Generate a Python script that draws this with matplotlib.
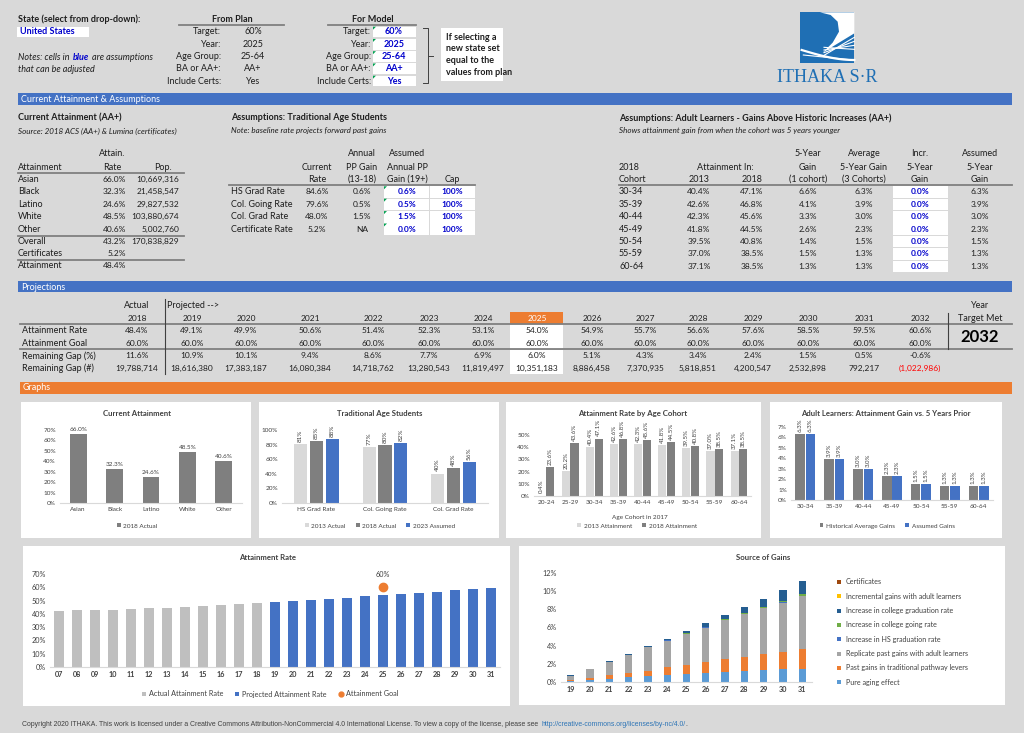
import matplotlib
matplotlib.use("Agg")
import matplotlib.pyplot as plt
from matplotlib.patches import Rectangle, Polygon
from matplotlib.lines import Line2D
from matplotlib.ticker import PercentFormatter
import numpy as np

plt.rcParams['font.family'] = ['Lato', 'DejaVu Sans']

# ---- header inputs ----
state = "United States"
plan_labels = ["Target:", "Year:", "Age Group:", "BA or AA+:", "Include Certs:"]
plan_values = ["60%", "2025", "25-64", "AA+", "Yes"]
model_values = ["60%", "2025", "25-64", "AA+", "Yes"]

# ---- current attainment ----
groups = ["Asian", "Black", "Latino", "White", "Other"]
group_rate = [66.0, 32.3, 24.6, 48.5, 40.6]
group_pop = [10669316, 21458547, 29827532, 103880674, 5002760]
overall_rate = 43.2
overall_pop = 170838829
cert_rate = 5.2
attain_total = 48.4

# ---- traditional age students ----
trad_labels = ["HS Grad Rate", "Col. Going Rate", "Col. Grad Rate", "Certificate Rate"]
trad_current = [84.6, 79.6, 48.0, 5.2]
trad_past_gain = ["0.6%", "0.5%", "1.5%", "NA"]
trad_assumed = [0.6, 0.5, 1.5, 0.0]
trad_cap = [100, 100, 100, 100]

# ---- adult learners ----
cohorts = ["30-34", "35-39", "40-44", "45-49", "50-54", "55-59", "60-64"]
att_2013 = [40.4, 42.6, 42.3, 41.8, 39.5, 37.0, 37.1]
att_2018 = [47.1, 46.8, 45.6, 44.5, 40.8, 38.5, 38.5]
gain_one = [6.6, 4.1, 3.3, 2.6, 1.4, 1.5, 1.3]
gain_avg = [6.3, 3.9, 3.0, 2.3, 1.5, 1.3, 1.3]
gain_incr = [0.0, 0.0, 0.0, 0.0, 0.0, 0.0, 0.0]
gain_assumed = [6.3, 3.9, 3.0, 2.3, 1.5, 1.3, 1.3]

# ---- projections ----
proj_years = [2018, 2019, 2020, 2021, 2022, 2023, 2024, 2025, 2026, 2027, 2028, 2029, 2030, 2031, 2032]
proj_rate = [48.4, 49.1, 49.9, 50.6, 51.4, 52.3, 53.1, 54.0, 54.9, 55.7, 56.6, 57.6, 58.5, 59.5, 60.6]
proj_goal = [60.0] * 15
gap_pct = [11.6, 10.9, 10.1, 9.4, 8.6, 7.7, 6.9, 6.0, 5.1, 4.3, 3.4, 2.4, 1.5, 0.5, -0.6]
gap_num = [19788714, 18616380, 17383187, 16080384, 14718762, 13280543, 11819497, 10351183,
           8886458, 7370935, 5818851, 4200547, 2532898, 792217, -1022986]

# ---- chart data ----
trad_cats = ["HS Grad Rate", "Col. Going Rate", "Col. Grad Rate"]
trad_2013 = [81.2, 77.2, 40.4]
trad_2018 = [84.6, 79.6, 48.0]
trad_2023 = [87.6, 82.1, 55.5]

age_cats = ["20-24", "25-29", "30-34", "35-39", "40-44", "45-49", "50-54", "55-59", "60-64"]
age_2013 = [0.4, 20.2, 40.4, 42.6, 42.3, 41.8, 39.5, 37.0, 37.1]
age_2018 = [23.6, 43.6, 47.1, 46.8, 45.6, 44.5, 40.8, 38.5, 38.5]

hist_years = ["07", "08", "09", "10", "11", "12", "13", "14", "15", "16", "17", "18"]
hist_rate = [42.3, 42.6, 42.9, 43.1, 43.6, 44.3, 44.7, 45.3, 45.9, 46.7, 47.3, 48.4]
fut_years = ["19", "20", "21", "22", "23", "24", "25", "26", "27", "28", "29", "30", "31"]
fut_rate = [49.1, 49.9, 50.6, 51.4, 52.3, 53.1, 54.0, 54.9, 55.7, 56.6, 57.6, 58.5, 59.5]
goal_year = "25"
goal_rate = 60

gain_names = ["Pure aging effect", "Past gains in traditional pathway levers",
              "Replicate past gains with adult learners", "Increase in HS graduation rate",
              "Increase in college going rate", "Increase in college graduation rate",
              "Incremental gains with adult learners", "Certificates"]
gain_aging = [0.1, 0.2, 0.35, 0.5, 0.65, 0.8, 0.9, 1.0, 1.15, 1.25, 1.35, 1.4, 1.45]
gain_trad = [0.1, 0.2, 0.4, 0.5, 0.6, 0.8, 0.95, 1.2, 1.35, 1.55, 1.75, 1.9, 2.15]
gain_repl = [0.5, 1.0, 1.45, 2.0, 2.55, 2.95, 3.45, 3.8, 4.3, 4.65, 5.0, 5.45, 5.85]
gain_hs = [0.0, 0.0, 0.01, 0.01, 0.02, 0.02, 0.03, 0.03, 0.04, 0.04, 0.05, 0.06, 0.07]
gain_going = [0.0, 0.0, 0.01, 0.01, 0.02, 0.03, 0.04, 0.05, 0.05, 0.06, 0.08, 0.1, 0.15]
gain_grad = [0.02, 0.05, 0.05, 0.06, 0.08, 0.17, 0.27, 0.38, 0.5, 0.7, 0.95, 1.2, 1.45]
gain_adult = [0.0] * 13
gain_cert = [0.0] * 13
gain_colors = ["#5b9bd5", "#ed7d31", "#a5a5a5", "#4472c4", "#70ad47", "#255e91", "#ffc000", "#9e480e"]

W, H = 1024, 733
fig = plt.figure(figsize=(W / 100, H / 100), dpi=100)
fig.patch.set_facecolor('#d9d9d9')
renderer = fig.canvas.get_renderer()

TXT = '#1e1e1e'
BLUE_TXT = '#0000cc'
BLUE = '#4472c4'
ORANGE = '#ed7d31'
DARK = '#7f7f7f'
LIGHT = '#d9d9d9'
NS = 6.0  # numbers in the tables (digits are wide in Lato)


def fx(x):
    return x / W


def fy(y):
    return 1 - y / H


def T(x, y, s, size=6.5, ha='left', **kw):
    kw.setdefault('color', TXT)
    return fig.text(fx(x), fy(y), s, fontsize=size, ha=ha, va='center', **kw)


def right_of(t):
    return t.get_window_extent(renderer).x1


def box(x0, y0, x1, y1, fc='white', z=0.5):
    fig.add_artist(Rectangle((fx(x0), fy(y1)), (x1 - x0) / W, (y1 - y0) / H,
                             transform=fig.transFigure, fc=fc, ec='none', zorder=z))


def seg(xs, ys, color='#808080', lw=1.0):
    fig.add_artist(Line2D([fx(x) for x in xs], [fy(y) for y in ys],
                          transform=fig.transFigure, color=color, lw=lw))


def tri(x, y):
    fig.add_artist(Polygon([(fx(x), fy(y)), (fx(x + 3), fy(y)), (fx(x), fy(y + 3))],
                           closed=True, transform=fig.transFigure, fc='#00a050', ec='none', zorder=1))


def pct(v, d=1):
    return f"{v:.{d}f}%"


# ================= header =================
T(18, 19, "State (select from drop-down):", weight='bold')
box(17, 27, 89, 37)
T(20, 32, state, color=BLUE_TXT, weight='bold')
n1 = T(18, 57, "Notes: cells in", style='italic')
n2 = T(right_of(n1) + 3, 57, "blue", style='italic', weight='bold', color=BLUE_TXT)
T(right_of(n2) + 3, 57, "are assumptions", style='italic')
T(18, 69, "that can be adjusted", style='italic')

T(232, 19, "From Plan", ha='center', weight='bold')
seg([179, 284], [24.5, 24.5], lw=1.3)
T(373, 19, "For Model", ha='center', weight='bold')
seg([328, 416], [24.5, 24.5], lw=1.3)
for i, (lab, pv, mv) in enumerate(zip(plan_labels, plan_values, model_values)):
    y = 32 + 12.25 * i
    T(221, y, lab, ha='right')
    T(253, y, pv, ha='center')
    T(371, y, lab, ha='right')
    box(373, y - 5.3, 416, y + 5.3)
    tri(373, y - 5.3)
    T(394, y, mv, ha='center', color=BLUE_TXT, weight='bold')

seg([423, 428, 428, 423], [28, 28, 83, 83], color='#404040', lw=0.7)
seg([428, 433], [56, 56], color='#404040', lw=0.7)
box(441, 28, 503, 81)
for i, line in enumerate(["If selecting a", "new state set", "equal to the", "values from plan"]):
    T(446, 37 + 11.7 * i, line, weight='bold')

# logo
LOGO = '#1f6fb4'
box(800, 12, 854, 63, fc=LOGO, z=1)
lp = lambda pts: [(fx(640 + a / 3), fy(b / 3)) for a, b in pts]
fig.add_artist(Polygon(lp([(540, 37), (643, 37), (643, 100), (548, 158), (578, 128), (597, 95),
                           (593, 65), (572, 45)]), closed=True, transform=fig.transFigure,
                       fc='white', ec='none', zorder=2))
for k in range(4):
    fig.add_artist(Line2D([fx(640 + 552 / 3), fx(640 + 643 / 3)],
                          [fy((160 - k * 8) / 3 + 2), fy((112 + k * 12) / 3)],
                          transform=fig.transFigure, color='white', lw=0.8, zorder=2))
t = np.linspace(0, 1, 30)
fig.add_artist(Line2D(fx(640 + (485 + 158 * t) / 3), fy((150 + 30 * np.sin(t * np.pi / 2)) / 3),
                      transform=fig.transFigure, color='white', lw=1.6, zorder=2))
fig.add_artist(Line2D(fx(640 + (490 + 150 * t) / 3), fy((165 + 15 * t) / 3),
                      transform=fig.transFigure, color='white', lw=0.8, zorder=2))
T(827, 78, "ITHAKA S\u00b7R", size=13, ha='center', color=LOGO, family='Liberation Serif')

# ================= current attainment & assumptions =================
box(18, 93, 1012, 105, fc=BLUE)
T(21, 99.5, "Current Attainment & Assumptions", color='white')

T(18, 118, "Current Attainment (AA+)", weight='bold')
T(18, 131, "Source: 2018 ACS (AA+) & Lumina (certificates)", style='italic', size=5.8)
T(112, 154, "Attain.", ha='center')
T(18, 167, "Attainment")
T(112, 167, "Rate", ha='center')
T(163, 167, "Pop.", ha='center')
seg([18, 184], [172.5, 172.5], lw=1.3)
for i, (g, r, p) in enumerate(zip(groups, group_rate, group_pop)):
    y = 179.5 + 12.4 * i
    T(18, y, g)
    T(126, y, pct(r), ha='right', size=NS)
    T(179, y, f"{p:,}", ha='right', size=NS)
seg([18, 184], [235.5, 235.5], lw=1.3)
T(18, 241.5, "Overall")
T(126, 241.5, pct(overall_rate), ha='right', size=NS)
T(179, 241.5, f"{overall_pop:,}", ha='right', size=NS)
T(18, 254, "Certificates")
T(126, 254, pct(cert_rate), ha='right', size=NS)
seg([18, 184], [259.5, 259.5], lw=1.3)
T(18, 266, "Attainment")
T(126, 266, pct(attain_total), ha='right', size=NS)

T(231, 118, "Assumptions: Traditional Age Students", weight='bold')
T(231, 131, "Note: baseline rate projects forward past gains", style='italic', size=5.8)
for x, y, s in [(362, 154, "Annual"), (407, 154, "Assumed"), (317, 167, "Current"),
                (362, 167, "PP Gain"), (407, 167, "Annual PP"), (317, 179, "Rate"),
                (362, 179, "(13-18)"), (407, 179, "Gain (19+)"), (452, 179, "Cap")]:
    T(x, y, s, ha='center')
seg([229, 475], [185, 185], lw=1.3)
for i, (lab, cur, pg, asm, cap) in enumerate(zip(trad_labels, trad_current, trad_past_gain,
                                                trad_assumed, trad_cap)):
    y = 192 + 12.4 * i
    T(231, y, lab)
    T(317, y, pct(cur), ha='center', size=NS)
    T(362, y, pg, ha='center', size=NS)
    box(384, y - 5.7, 429, y + 5.7)
    box(430, y - 5.7, 475, y + 5.7)
    tri(384, y - 5.7)
    T(407, y, pct(asm), ha='center', color=BLUE_TXT, weight='bold', size=NS)
    T(452, y, f"{cap}%", ha='center', color=BLUE_TXT, weight='bold', size=NS)

T(619, 118, "Assumptions: Adult Learners - Gains Above Historic Increases (AA+)", weight='bold')
T(619, 131, "Shows attainment gain from when the cohort was 5 years younger", style='italic', size=5.8)
for x, y, s, ha in [(619, 167, "2018", 'left'), (619, 179, "Cohort", 'left'),
                    (725, 167, "Attainment In:", 'center'), (699, 179, "2013", 'center'),
                    (752, 179, "2018", 'center'), (808, 154, "5-Year", 'center'),
                    (808, 167, "Gain", 'center'), (808, 179, "(1 cohort)", 'center'),
                    (864, 154, "Average", 'center'), (864, 167, "5-Year Gain", 'center'),
                    (864, 179, "(3 Cohorts)", 'center'), (920, 154, "Incr.", 'center'),
                    (920, 167, "5-Year", 'center'), (920, 179, "Gain", 'center'),
                    (980, 154, "Assumed", 'center'), (980, 167, "5-Year", 'center'),
                    (980, 179, "Gain", 'center')]:
    T(x, y, s, ha=ha)
seg([619, 1012], [185, 185], lw=1.3)
for i, c in enumerate(cohorts):
    y = 192 + 12.4 * i
    T(619, y, c)
    T(699, y, pct(att_2013[i]), ha='center', size=NS)
    T(752, y, pct(att_2018[i]), ha='center', size=NS)
    T(808, y, pct(gain_one[i]), ha='center', size=NS)
    T(864, y, pct(gain_avg[i]), ha='center', size=NS)
    box(893, y - 5.7, 948, y + 5.7)
    T(920, y, pct(gain_incr[i]), ha='center', color=BLUE_TXT, weight='bold', size=NS)
    T(980, y, pct(gain_assumed[i]), ha='center', size=NS)

# ================= projections =================
box(18, 281, 1012, 292.5, fc=BLUE)
T(21, 287, "Projections", color='white')
proj_x = [137, 192, 246, 310, 373, 429, 483, 537, 592, 645, 698, 753, 808, 864, 920]
box(510, 312, 563, 323.5, fc=ORANGE)
box(510, 325, 563, 348.5)
box(510, 349.5, 563, 374)
T(137, 306, "Actual", ha='center')
T(167, 306, "Projected -->")
row_y = [331, 343, 356, 368]
for lab, y in zip(["Attainment Rate", "Attainment Goal", "Remaining Gap (%)", "Remaining Gap (#)"], row_y):
    T(22, y, lab)
for x, yr, r, g, gp, gn in zip(proj_x, proj_years, proj_rate, proj_goal, gap_pct, gap_num):
    T(x, 318.5, str(yr), ha='center', size=NS, color='white' if yr == 2025 else TXT)
    T(x, row_y[0], pct(r), ha='center', size=NS)
    T(x, row_y[1], pct(g), ha='center', size=NS)
    T(x, row_y[2], pct(gp), ha='center', size=NS)
    if gn < 0:
        T(x, row_y[3], f"({-gn:,})", ha='center', size=NS, color='#ff0000')
    else:
        T(x, row_y[3], f"{gn:,}", ha='center', size=NS)
seg([20, 1012], [324, 324], lw=1.3)
seg([20, 1012], [349, 349], lw=1.3)
seg([165, 165], [299, 374], color='#404040', lw=0.8)
seg([948, 948], [313, 349], color='#404040', lw=0.8)
target_met = next(yr for yr, r, g in zip(proj_years, proj_rate, proj_goal) if r >= g)
T(980, 306, "Year", ha='center')
T(980, 318.5, "Target Met", ha='center')
T(980, 337, str(target_met), ha='center', size=12, weight='bold', color='black')

# ================= graphs =================
box(20, 382, 1012, 393.5, fc=ORANGE)
T(23, 388, "Graphs", color='white')

for p in [(21, 402, 251, 538), (259, 402, 499, 538), (506, 402, 761, 538), (770, 402, 1002, 538),
          (23, 546, 510, 706), (519, 546, 1005, 705)]:
    box(*p, z=-1)

CTXT = '#404040'
FS = 4.6
FS2 = 5.2  # bottom row charts


def chart_ax(x0, y0, x1, y1, ymax, step, size=FS):
    ax = fig.add_axes([fx(x0), fy(y1), (x1 - x0) / W, (y1 - y0) / H])
    ax.set_facecolor('none')
    for s in ['top', 'right', 'left']:
        ax.spines[s].set_visible(False)
    ax.spines['bottom'].set_color('#d9d9d9')
    ax.spines['bottom'].set_linewidth(0.8)
    ax.set_ylim(0, ymax)
    ax.set_yticks(np.arange(0, ymax + step / 2, step))
    ax.yaxis.set_major_formatter(PercentFormatter(xmax=100, decimals=0))
    ax.tick_params(length=0, labelsize=size, labelcolor=CTXT, pad=3)
    return ax


def chart_legend(ax, handles, labels, cx, cy, size=FS):
    ax.legend(handles, labels, loc='center', bbox_to_anchor=(fx(cx), fy(cy)),
              bbox_transform=fig.transFigure, ncol=len(labels), frameon=False, fontsize=size,
              handlelength=0.6, handleheight=0.6, handletextpad=0.4, columnspacing=1.6,
              labelcolor=CTXT, borderaxespad=0, borderpad=0)


def chart_title(x, y, s):
    T(x, y, s, size=5.6, ha='center', weight='bold', color=CTXT)


# Current attainment
ax1 = chart_ax(60, 430, 242, 503, 70, 10)
xs = np.arange(len(groups))
b1 = ax1.bar(xs, group_rate, width=0.46, color=DARK)
ax1.bar_label(b1, labels=[pct(v) for v in group_rate], fontsize=FS, padding=1.5, color=CTXT)
ax1.set_xticks(xs, groups)
ax1.set_xlim(-0.5, len(groups) - 0.5)
chart_title(137, 413, "Current Attainment")
chart_legend(ax1, [b1], ["2018 Actual"], 137, 526)

# Traditional age students
ax2 = chart_ax(282, 430, 488, 503, 100, 20)
xs = np.arange(len(trad_cats))
hs = []
for off, vals, col in [(-0.23, trad_2013, LIGHT), (0, trad_2018, DARK), (0.23, trad_2023, BLUE)]:
    b = ax2.bar(xs + off, vals, width=0.19, color=col)
    ax2.bar_label(b, labels=[f"{v:.0f}%" for v in vals], fontsize=FS, padding=1.5,
                  rotation=90, color=CTXT)
    hs.append(b)
ax2.set_xticks(xs, trad_cats)
ax2.set_xlim(-0.5, len(trad_cats) - 0.5)
chart_title(380, 413, "Traditional Age Students")
chart_legend(ax2, hs, ["2013 Actual", "2018 Actual", "2023 Assumed"], 380, 526)

# Attainment by age cohort
ax3 = chart_ax(534, 435, 751, 496, 50, 10)
xs = np.arange(len(age_cats))
hs = []
for off, vals, col in [(-0.18, age_2013, LIGHT), (0.18, age_2018, DARK)]:
    b = ax3.bar(xs + off, vals, width=0.34, color=col)
    ax3.bar_label(b, labels=[pct(v) for v in vals], fontsize=FS - 0.2, padding=1.5,
                  rotation=90, color=CTXT)
    hs.append(b)
ax3.set_xticks(xs, age_cats)
ax3.set_xlim(-0.5, len(age_cats) - 0.5)
T(640, 517, "Age Cohort in 2017", size=FS, ha='center', color=CTXT)
chart_title(633, 413, "Attainment Rate by Age Cohort")
chart_legend(ax3, hs, ["2013 Attainment", "2018 Attainment"], 637, 526)

# Adult learners
ax4 = chart_ax(791, 427, 993, 500, 7, 1)
xs = np.arange(len(cohorts))
hs = []
for off, vals, col in [(-0.18, gain_avg, DARK), (0.18, gain_assumed, BLUE)]:
    b = ax4.bar(xs + off, vals, width=0.33, color=col)
    ax4.bar_label(b, labels=[pct(v) for v in vals], fontsize=FS - 0.2, padding=1.5,
                  rotation=90, color=CTXT)
    hs.append(b)
ax4.set_xticks(xs, cohorts)
ax4.set_xlim(-0.5, len(cohorts) - 0.5)
chart_title(886, 413, "Adult Learners: Attainment Gain vs. 5 Years Prior")
chart_legend(ax4, hs, ["Historical Average Gains", "Assumed Gains"], 887, 526)

# Attainment rate over time
ax5 = chart_ax(50, 574, 500, 667, 70, 10, size=FS2)
all_years = hist_years + fut_years
xs = np.arange(len(all_years))
b5a = ax5.bar(xs[:len(hist_years)], hist_rate, width=0.55, color='#bfbfbf')
b5b = ax5.bar(xs[len(hist_years):], fut_rate, width=0.55, color=BLUE)
gx = all_years.index(goal_year)
ax5.scatter([gx], [goal_rate], s=36, color=ORANGE, zorder=3)
ax5.annotate(f"{goal_rate}%", (gx, goal_rate), xytext=(0, 9), textcoords='offset points',
             ha='center', va='center', fontsize=FS2, color=CTXT)
ax5.set_xticks(xs, all_years)
for lbl in ax5.get_xticklabels():
    lbl.set_fontweight('bold')
ax5.set_xlim(-0.5, len(all_years) - 0.5)
chart_title(268, 558, "Attainment Rate")
chart_legend(ax5, [b5a, b5b, Line2D([], [], marker='o', ls='', color=ORANGE, markersize=3.5)],
             ["Actual Attainment Rate", "Projected Attainment Rate", "Attainment Goal"], 270, 694,
             size=FS2)

# Source of gains
ax6 = chart_ax(561, 573, 812, 682, 12, 2, size=FS2)
xs = np.arange(len(fut_years))
bottom = np.zeros(len(fut_years))
for vals, col in zip([gain_aging, gain_trad, gain_repl, gain_hs, gain_going, gain_grad,
                      gain_adult, gain_cert], gain_colors):
    ax6.bar(xs, vals, bottom=bottom, width=0.38, color=col)
    bottom += np.array(vals)
ax6.set_xticks(xs, fut_years)
for lbl in ax6.get_xticklabels():
    lbl.set_fontweight('bold')
ax6.set_xlim(-0.5, len(fut_years) - 0.5)
chart_title(763, 558, "Source of Gains")
for i, (name, col) in enumerate(zip(gain_names[::-1], gain_colors[::-1])):
    y = 582 + 14.3 * i
    box(837, y - 2, 841, y + 2, fc=col, z=1)
    T(846, y, name, size=5.1, color=CTXT)

# copyright
c1 = fig.text(fx(22), fy(725), "Copyright 2020 ITHAKA. This work is licensed under a Creative Commons "
              "Attribution-NonCommercial 4.0 International License. To view a copy of the license, "
              "please see", fontsize=4.95, family='Liberation Sans', color='#404040', va='center')
c2 = fig.text((right_of(c1) + 3) / W, fy(725), "http://creative-commons.org/licenses/by-nc/4.0/",
              fontsize=4.95, family='Liberation Sans', color='#2e75b6', va='center')
fig.text(right_of(c2) / W, fy(725), ".", fontsize=4.95, family='Liberation Sans', color='#404040',
         va='center')

fig.savefig("out.png", dpi=100, facecolor=fig.get_facecolor())
